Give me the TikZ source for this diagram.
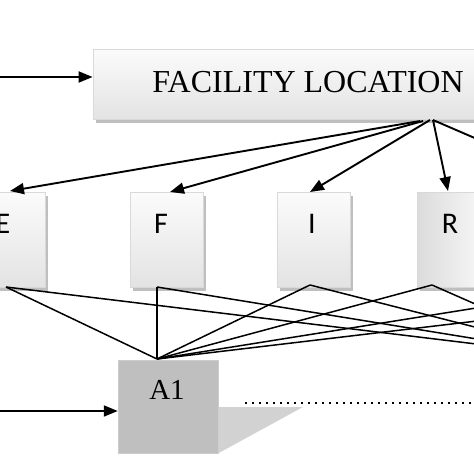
\documentclass[tikz,border=0pt]{standalone}
\usepackage{fontspec}
\setmainfont{Liberation Serif}
\newfontfamily\critfont{Carlito}
\usetikzlibrary{arrows.meta,shadows}
\begin{document}
\begin{tikzpicture}[x=1pt,y=-1pt,
  boxshade/.style={draw=gray!30, line width=0.8pt, top color=gray!3, bottom color=gray!22, inner sep=0pt,
    drop shadow={shadow xshift=2.5pt, shadow yshift=-3.5pt, fill=gray!50, opacity=1}},
  critbox/.style={boxshade, minimum width=73pt, minimum height=95pt},
  topbox/.style={boxshade, minimum width=430pt, minimum height=70pt, font=\fontsize{32}{32}\selectfont},
  crittext/.style={font=\critfont\fontsize{30}{30}\selectfont, inner sep=0pt},
  altbox/.style={fill=gray!50, draw=gray!40, line width=0.5pt, minimum width=100pt, minimum height=93pt, inner sep=0pt},
  alttext/.style={font=\fontsize{29}{29}\selectfont, inner sep=0pt},
  arr/.style={line width=1.9pt, -{Triangle[length=14pt,width=11pt]}},
  link/.style={line width=1.5pt}
]
\useasboundingbox (0,0) rectangle (474,474);
\clip (0,0) rectangle (474,474);
\fill[white] (0,0) rectangle (474,474);

% top box
\node[topbox] (FL) at (308,84) {\raisebox{4pt}{FACILITY LOCATION}};
\coordinate (inFL) at (0,77);
\draw[arr] (inFL) -- (FL.west |- inFL);

% criteria boxes
\node[critbox] (E) at (8.5,239.5) {};
\node[critbox] (F) at (166.5,239.5) {};
\node[critbox] (I) at (313.5,239.5) {};
\node[critbox, top color=gray!5, bottom color=gray!25, left color=gray!28, right color=gray!4] (R) at (453.5,239.5) {};
\node[crittext] (Et) at (3,224) {E};
\node[crittext] (Ft) at (161,224) {F};
\node[crittext] (It) at (312,224) {I};
\node[crittext] (Rt) at (450,224) {R};

% arrows from facility location
\coordinate (h1) at (420,121);
\coordinate (h2) at (423,121);
\coordinate (h3) at (430,120);
\coordinate (h4) at (433,120);
\coordinate (tE) at (10,191);
\coordinate (tF) at (170,192);
\coordinate (tI) at (310,192);
\coordinate (tR) at (448,191);
\coordinate (tX) at (595,190);
\draw[arr] (h1) -- (tE);
\draw[arr] (h2) -- (tF);
\draw[arr] (h3) -- (tI);
\draw[arr] (h4) -- (tR);
\draw[arr] (h4) -- (tX);

% alternative box
\node[altbox] (A1) at (168,406.5) {};
\node[alttext] (A1t) at (167,390) {A1};
\fill[gray!35] (A1.east |- 0,407) -- (303,407) -- (A1.south east) -- cycle;
\coordinate (inA1) at (0,411);
\draw[arr] (inA1) -- (A1.west |- inA1);
\coordinate (d1) at (245,403);
\coordinate (d2) at (480,403);
\draw[line width=2pt, dash pattern=on 2pt off 5pt] (d1) -- (d2);

% links criteria -> alternatives
\coordinate (bE) at (6,287);
\coordinate (bF) at (157,287);
\coordinate (bI) at (310,285);
\coordinate (bR) at (432,285);
\coordinate (b5) at (620,285);
\coordinate (b6) at (780,285);
\coordinate (a1) at (157,359);
\coordinate (a2) at (600,359);
\foreach \c in {bE,bF,bI,bR,b5,b6} {
  \draw[link] (\c) -- (a1);
}
\foreach \c in {bE,bF,bI,bR} {
  \draw[link] (\c) -- (a2);
}
\end{tikzpicture}
\end{document}
